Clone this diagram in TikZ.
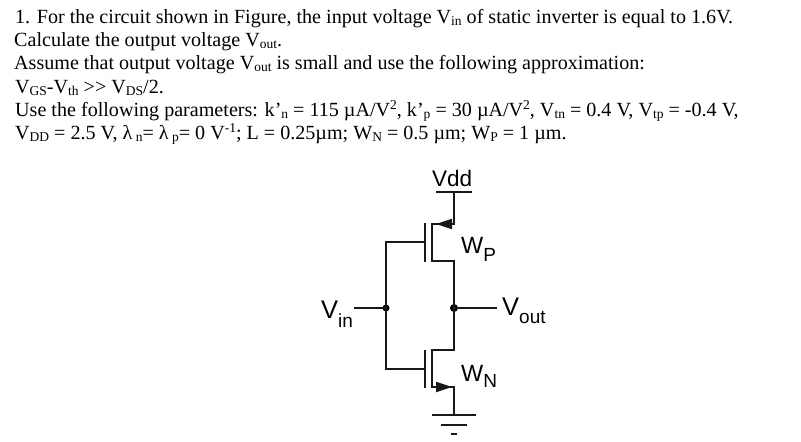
\documentclass[tikz,border=0pt]{standalone}
\usepackage{fontspec}
\setmainfont{Liberation Serif}
\newfontfamily\labelfont{Liberation Sans}
\usetikzlibrary{arrows.meta}
\newcommand{\lowtxt}[1]{\raisebox{-2.2pt}{\fontsize{13.5}{14}\selectfont #1}}
\newcommand{\uptxt}[1]{\raisebox{7pt}{\fontsize{13.5}{14}\selectfont #1}}
\newcommand{\lowlab}[2]{\raisebox{-#1}{\fontsize{19}{20}\selectfont #2}}
\tikzset{
  x=1pt,y=1pt,
  textline/.style={anchor=base west,inner sep=0pt,font=\fontsize{20.1}{23}\selectfont,text=black},
  circuitlabel/.style={anchor=base west,inner sep=0pt,font=\labelfont\fontsize{23.5}{25}\selectfont,text=black},
  wire/.style={draw=black!90,line width=1.9pt,line cap=butt,line join=miter},
  plate/.style={draw=black!90,line width=2pt},
  tipped/.style={wire,-{Triangle[length=16pt,width=10pt]}},
  junction/.style={circle,fill=black,draw=none,inner sep=0pt,minimum size=#1},
}
\begin{document}
\begin{tikzpicture}
\useasboundingbox (0,0) rectangle (801,-442);
\fill[white] (0,0) rectangle (801,-442);
% problem text
\node[textline] (l1) at (15,-23) {1. For the circuit shown in Figure, the input voltage V\lowtxt{in} of static inverter is equal to 1.6V.};
\node[textline] (l2) at (14,-46) {Calculate the output voltage V\lowtxt{out}.};
\node[textline] (l3) at (14,-69.5) {Assume that output voltage V\lowtxt{out} is small and use the following approximation:};
\node[textline] (l4) at (15,-93) {V\lowtxt{GS}-V\lowtxt{th} >{}> V\lowtxt{DS}/2.};
\node[textline] (l5) at (15,-116) {Use the following parameters: k’\lowtxt{n} = 115 µA/V\uptxt{2}, k’\lowtxt{p} = 30 µA/V\uptxt{2}, V\lowtxt{tn} = 0.4 V, V\lowtxt{tp} = -0.4 V,};
\node[textline] (l6) at (15,-139) {V\lowtxt{DD} = 2.5 V, λ\lowtxt{ n}= λ\lowtxt{ p}= 0 V\uptxt{-1}; L = 0.25µm; W\lowtxt{N} = 0.5 µm; W\lowtxt{P} = 1 µm.};
% circuit coordinates
\coordinate (vddL) at (436,-192);
\coordinate (vddR) at (472,-192);
\coordinate (vddS) at (454,-192);
\coordinate (pS) at (454,-224);
\coordinate (pCt) at (432,-224);
\coordinate (pCb) at (432,-261);
\coordinate (pD) at (454,-261);
\coordinate (pGt) at (425,-223);
\coordinate (pGb) at (425,-262);
\coordinate (pG) at (425,-242);
\coordinate (pW) at (386,-242);
\coordinate (pTip) at (436,-224);
\coordinate (nW) at (386,-369);
\coordinate (nG) at (425,-369);
\coordinate (nGt) at (425,-350);
\coordinate (nGb) at (425,-388);
\coordinate (nCt) at (432,-350);
\coordinate (nCb) at (432,-387);
\coordinate (nD) at (454,-350);
\coordinate (nS) at (454,-387);
\coordinate (nTip) at (452,-387);
\coordinate (gnd) at (454,-415);
\coordinate (g1L) at (432,-415);
\coordinate (g1R) at (476,-415);
\coordinate (g2L) at (441,-425);
\coordinate (g2R) at (467,-425);
\coordinate (g3L) at (451,-434);
\coordinate (g3R) at (457,-434);
\coordinate (inEnd) at (354,-308);
\coordinate (outEnd) at (497,-308);
\node[junction=7pt] (inJ) at (386,-308) {};
\node[junction=8pt] (outJ) at (454,-308) {};
% PMOS
\draw[wire] (vddL) -- (vddR);
\draw[wire] (vddS) -- (pS) -- (pCt) -- (pCb) -- (pD) -- (outJ.center);
\draw[tipped] (pS) -- (pTip);
\draw[plate] (pGt) -- (pGb);
\draw[wire] (pG) -- (pW) -- (inJ.center);
% NMOS
\draw[wire] (outJ.center) -- (nD) -- (nCt) -- (nCb) -- (nS) -- (gnd);
\draw[tipped] (nCb) -- (nTip);
\draw[plate] (nGt) -- (nGb);
\draw[wire] (inJ.center) -- (nW) -- (nG);
% terminals
\draw[wire] (inEnd) -- (inJ.center);
\draw[wire] (outJ.center) -- (outEnd);
% ground
\draw[wire] (g1L) -- (g1R);
\draw[wire] (g2L) -- (g2R);
\draw[wire] (g3L) -- (g3R);
% labels
\node[circuitlabel,font=\labelfont\fontsize{22.5}{25}\selectfont] (vdd) at (432,-186) {Vdd};
\node[circuitlabel] (wp) at (461,-253) {W\lowlab{8pt}{P}};
\node[circuitlabel] (wn) at (461,-381) {W\lowlab{6pt}{N}};
\node[circuitlabel,font=\labelfont\fontsize{25.5}{27}\selectfont] (vin) at (321,-318) {V\lowlab{9pt}{in}};
\node[circuitlabel,font=\labelfont\fontsize{25.5}{27}\selectfont] (vout) at (502,-315) {V\lowlab{8pt}{out}};
\end{tikzpicture}
\end{document}
